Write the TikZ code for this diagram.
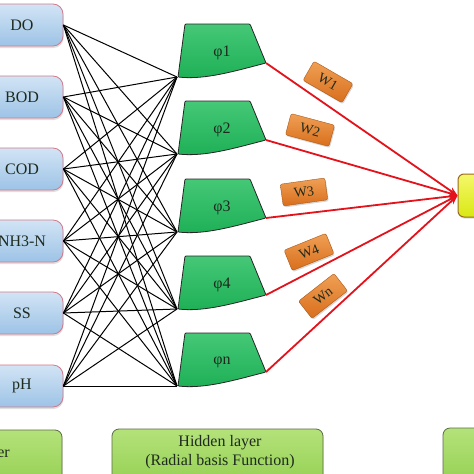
\documentclass[tikz,border=0pt]{standalone}
\usepackage{fontspec}
\setmainfont{Liberation Serif}
\usetikzlibrary{arrows.meta,shadows}
\definecolor{inTop}{HTML}{D2E4F5}
\definecolor{inBot}{HTML}{9DC3E6}
\definecolor{inBorder}{HTML}{D4788A}
\definecolor{hidTop}{HTML}{45C877}
\definecolor{hidBot}{HTML}{1DAF55}
\definecolor{wTop}{HTML}{F0A055}
\definecolor{wBot}{HTML}{D86E1C}
\definecolor{layTop}{HTML}{B4E27A}
\definecolor{layBot}{HTML}{8CCB48}
\definecolor{layBorder}{HTML}{5B6B45}
\definecolor{outTop}{HTML}{F4F86A}
\definecolor{outBot}{HTML}{D9E812}
\definecolor{outBorder}{HTML}{9A6A1E}
\definecolor{redLine}{HTML}{E3121B}
\definecolor{labText}{HTML}{1E2A1E}
\newcommand\HidUnit[3]{%
  \draw[hidshape] (185,#2) -- (250,#2) -- (266,#2+39)
     .. controls (235,#2+47) and (205,#2+56) .. (178,#2+53) -- cycle;
  \node[hidtext] (#1) at (222,#2+29) {#3};
  \coordinate (#1in) at (177,#2+53);
  \coordinate (#1out) at (266,#2+39);
}
\begin{document}
\begin{tikzpicture}[x=1pt,y=-1pt,
  inbox/.style={draw=inBorder, line width=0.8pt, rounded corners=10pt,
    top color=inTop, bottom color=inBot, minimum width=82pt, minimum height=42pt,
    inner sep=0pt, font=\fontsize{16}{16}\selectfont, text=labText,
    drop shadow={opacity=0.25, shadow xshift=0.5pt, shadow yshift=-2pt}},
  hidshape/.style={draw=black!85, line width=0.8pt, rounded corners=1pt,
    top color=hidTop, bottom color=hidBot},
  hidtext/.style={font=\fontsize{16}{16}\selectfont, text=labText, inner sep=0pt},
  wbox/.style={draw=wBot!80!black, line width=0.4pt, rounded corners=2pt,
    top color=wTop, bottom color=wBot, minimum width=45pt, minimum height=22pt,
    inner sep=0pt, font=\fontsize{14}{14}\selectfont, text=labText,
    drop shadow={opacity=0.3, shadow xshift=1pt, shadow yshift=-1.5pt}},
  laybox/.style={draw=layBorder, line width=0.8pt, rounded corners=7pt,
    top color=layTop, bottom color=layBot,
    drop shadow={opacity=0.25, shadow xshift=0.5pt, shadow yshift=-1.5pt}},
  laytext/.style={font=\fontsize{16}{19}\selectfont, text=labText, align=center, inner sep=0pt},
  outbox/.style={draw=outBorder, line width=1pt, rounded corners=6pt,
    top color=outTop, bottom color=outBot, minimum width=44pt, minimum height=43pt,
    drop shadow={opacity=0.25, shadow xshift=0.5pt, shadow yshift=-1.5pt}},
  blackline/.style={draw=black, line width=1pt},
  redline/.style={draw=redLine, line width=1.8pt, -{Stealth[length=9pt,width=7pt]}}
]
\useasboundingbox (0,0) rectangle (474,474);
\clip (0,0) rectangle (474,474);
\fill[white] (0,0) rectangle (474,474);

% input nodes
\node[inbox] (i1) at (22,25) {DO};
\node[inbox] (i2) at (22,97) {BOD};
\node[inbox] (i3) at (22,169) {COD};
\node[inbox] (i4) at (22,241) {NH3-N};
\node[inbox] (i5) at (22,313) {SS};
\node[inbox] (i6) at (22,386) {pH};

% hidden nodes
\HidUnit{h1}{24}{φ1}
\HidUnit{h2}{101}{φ2}
\HidUnit{h3}{179}{φ3}
\HidUnit{h4}{256}{φ4}
\HidUnit{h5}{333}{φn}

% output node
\node[outbox] (out) at (480,195.5) {};

% input -> hidden connections
\foreach \i in {1,...,6}{
  \foreach \j in {1,...,5}{
    \draw[blackline] (i\i.east) -- (h\j in);
  }
}

% hidden -> output connections
\foreach \j in {1,...,5}{
  \draw[redline] (h\j out) -- (out.west);
}

% weights
\node[wbox, rotate=-30] (w1) at (328,82) {W1};
\node[wbox, rotate=-15] (w2) at (310,130) {W2};
\node[wbox, rotate=8]   (w3) at (304,192) {W3};
\node[wbox, rotate=22]  (w4) at (309,252) {W4};
\node[wbox, rotate=38]  (w5) at (323,296) {Wn};

% layer labels
\draw[laybox] (-150,430) rectangle (62,500);
\node[laytext, anchor=base east] (lin) at (10,457) {Input layer};
\draw[laybox] (112,429) rectangle (323,500);
\node[laytext] (lhid) at (220,452) {Hidden layer\\(Radial basis Function)};
\draw[laybox] (443,428) rectangle (660,500);
\end{tikzpicture}
\end{document}
